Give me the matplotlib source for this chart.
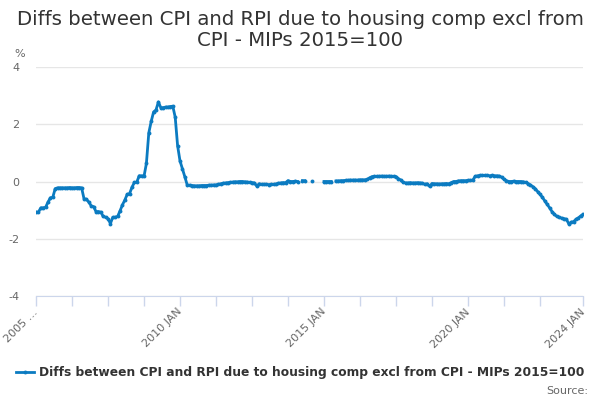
import numpy as np
import matplotlib
matplotlib.use("Agg")
import matplotlib.pyplot as plt

title = "Diffs between CPI and RPI due to housing comp excl from\nCPI - MIPs 2015=100"
series_name = "Diffs between CPI and RPI due to housing comp excl from CPI - MIPs 2015=100"

# monthly values, 2005 JAN .. 2024 JAN (None = no data)
vals_2005_2010 = [-1.07, -1.07, -0.92, -0.92, -0.90, -0.72, -0.57, -0.55, -0.25,
                  -0.22, -0.22, -0.22, -0.22, -0.22, -0.21, -0.22, -0.22, -0.21, -0.21, -0.22,
                  -0.60, -0.62, -0.72, -0.85, -0.88, -1.05, -1.05, -1.07, -1.22, -1.25,
                  -1.30, -1.47, -1.25, -1.25, -1.22, -1.03, -0.82, -0.65, -0.45, -0.42,
                  -0.20, -0.03, -0.02, 0.20, 0.20, 0.18, 0.63, 1.70, 2.10, 2.43,
                  2.50, 2.78, 2.58, 2.58, 2.60, 2.60, 2.62, 2.63, 2.25, 1.25,
                  0.72, 0.45, 0.17, -0.12]
vals_2010_2015 = [-0.13, -0.14, -0.15, -0.15, -0.15, -0.14, -0.14, -0.14, -0.13, -0.13, -0.12, -0.12,
                  -0.10, -0.08, -0.06, -0.05, -0.04, -0.03, -0.02, -0.01, -0.01, 0.00, 0.00, -0.01, -0.02,
                  -0.03, -0.04, -0.05, -0.16, -0.08,
                  -0.10, -0.10, -0.10, -0.11, -0.10, -0.10, -0.09,
                  -0.06, -0.05, -0.04, -0.04, 0.03,
                  0.00, 0.00, 0.01, 0.00, None, 0.03, 0.03, None, None, 0.02,
                  None, None, None, None]
vals_2015_2020 = [0.00, 0.00, 0.00, 0.00, None,
                  0.02, 0.02, 0.03, 0.03, 0.04, 0.04, 0.05, 0.05, 0.05, 0.05, 0.06, 0.06, 0.06, 0.07,
                  0.13, 0.17, 0.18, 0.18, 0.18, 0.19, 0.18, 0.18, 0.19, 0.18, 0.18, 0.17,
                  0.10, 0.05, -0.03,
                  -0.05, -0.05, -0.04, -0.05, -0.05, -0.04, -0.05, -0.06,
                  -0.10, -0.08, -0.17, -0.07,
                  -0.08, -0.08, -0.09, -0.08, -0.08, -0.07, -0.08, -0.04,
                  0.00, 0.00, 0.02]
vals_2020_2024 = [0.03, 0.03, 0.03, 0.04, 0.04, 0.05,
                  0.18, 0.20, 0.21, 0.21, 0.21, 0.21, 0.20, 0.21, 0.20, 0.20, 0.19,
                  0.15, 0.08, 0.03,
                  0.00, 0.00, 0.01, 0.00, 0.00, 0.00, -0.01, -0.03,
                  -0.07, -0.12, -0.18, -0.25, -0.35, -0.45, -0.55, -0.68, -0.80, -0.92,
                  -1.05, -1.15, -1.22, -1.25, -1.28, -1.30, -1.32, -1.48, -1.42, -1.40,
                  -1.32, -1.27, -1.20, -1.14]

values = vals_2005_2010 + vals_2010_2015 + vals_2015_2020 + vals_2020_2024
y = np.array([np.nan if v is None else v for v in values], dtype=float)
x = np.arange(len(y))

tick_pos = list(range(0, 211, 15)) + [len(y) - 1]
tick_text = {0: "2005 …", 60: "2010 JAN", 120: "2015 JAN", 180: "2020 JAN", len(y) - 1: "2024 JAN"}
y_ticks = [-4, -2, 0, 2, 4]

blue = "#0B7BC1"
grey = "#666666"

fig = plt.figure(figsize=(6, 4), dpi=100)
ax = fig.add_axes([0.06, 0.26, 0.912, 0.5725])

line, = ax.plot(x, y, color=blue, lw=2, marker="o", ms=2.8, mew=0)

for s in ["top", "right", "left"]:
    ax.spines[s].set_visible(False)
ax.spines["bottom"].set_color("#ccd6eb")

ax.set_xlim(0, len(y) - 1)
ax.set_ylim(-4, 4)
ax.set_yticks(y_ticks)
ax.set_yticklabels([str(t) for t in y_ticks], color=grey, fontsize=8)
ax.set_xticks(tick_pos)
ax.set_xticklabels([tick_text.get(p, "") for p in tick_pos], color=grey, fontsize=8)
ax.tick_params(axis="y", length=0, pad=12)
ax.tick_params(axis="x", length=7.2, color="#ccd6eb", width=1, pad=3)
plt.setp(ax.get_xticklabels(), rotation=45, ha="right", va="center", rotation_mode="anchor")
ax.grid(axis="y", color="#e6e6e6", lw=1)
ax.set_axisbelow(True)

fig.text(0.5, 0.975, title, ha="center", va="top", fontsize=14.2, color="#333333", linespacing=1.1)
fig.text(0.024, 0.858, "%", fontsize=8, color=grey)

leg = fig.legend([line], [series_name], loc="center", bbox_to_anchor=(0.5, 0.068),
                 frameon=False, handlelength=1.5, handletextpad=0.4,
                 prop={"weight": "bold", "size": 8.8})
for t in leg.get_texts():
    t.set_color("#333333")
fig.text(0.98, 0.01, "Source:", ha="right", va="bottom", fontsize=8, color=grey)

fig.savefig("out.png", dpi=100)
